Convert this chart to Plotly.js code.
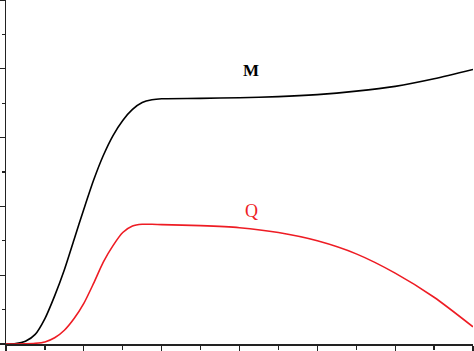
<!DOCTYPE html>
<html>
<head>
<meta charset="utf-8">
<script src="https://cdn.plot.ly/plotly-3.0.1.min.js"></script>
<style>html,body{margin:0;padding:0;background:#fff;}#chart{width:474px;height:351px;}</style>
</head>
<body>
<div id="chart"></div>
<script>
// Curve M (black)
const xM = [0, 0.125, 0.25, 0.375, 0.5, 0.625, 0.75, 0.875, 1.0, 1.125, 1.25, 1.375, 1.5, 1.625, 1.75, 1.875, 2.0, 2.5, 3.0, 3.5, 4.0, 4.5, 5.0, 5.5, 6.0];
const yM = [0, 0.005, 0.04, 0.14, 0.37, 0.70, 1.08, 1.52, 1.96, 2.38, 2.74, 3.03, 3.25, 3.41, 3.51, 3.55, 3.565, 3.57, 3.58, 3.595, 3.625, 3.675, 3.745, 3.855, 3.99];
// Curve Q (red)
const xQ = [0, 0.25, 0.375, 0.5, 0.625, 0.75, 0.875, 1.0, 1.125, 1.25, 1.375, 1.5, 1.625, 1.75, 1.875, 2.0, 2.5, 3.0, 3.5, 4.0, 4.5, 5.0, 5.5, 6.0];
const yQ = [0, 0.003, 0.01, 0.03, 0.09, 0.20, 0.37, 0.59, 0.88, 1.19, 1.43, 1.62, 1.715, 1.74, 1.74, 1.735, 1.72, 1.69, 1.62, 1.50, 1.31, 1.03, 0.68, 0.25];
const labels = ["M", "Q"];
const labelX = [3.15, 3.16];
const labelY = [3.98, 1.93];
const RED = "#ee1c24";

const traces = [
  {x: xM, y: yM, mode: "lines", line: {color: "#000", width: 1.6, shape: "spline", smoothing: 0.7}, hoverinfo: "skip"},
  {x: xQ, y: yQ, mode: "lines", line: {color: RED, width: 1.6, shape: "spline", smoothing: 0.7}, hoverinfo: "skip"}
];

const layout = {
  width: 474, height: 351,
  margin: {l: 6, r: 1, t: 0, b: 7, pad: 0},
  paper_bgcolor: "#fff", plot_bgcolor: "#fff",
  showlegend: false,
  xaxis: {
    range: [0, 6], showgrid: false, zeroline: false,
    showline: true, linecolor: "#222", linewidth: 1.5,
    ticks: "outside", ticklen: 7, tickwidth: 1.3, tickcolor: "#222", dtick: 1, tick0: 0,
    showticklabels: false,
    minor: {ticks: "outside", ticklen: 4, tickwidth: 1.3, tickcolor: "#222", dtick: 0.5, showgrid: false}
  },
  yaxis: {
    range: [0, 5], showgrid: false, zeroline: false,
    showline: true, linecolor: "#222", linewidth: 1.5,
    ticks: "outside", ticklen: 6, tickwidth: 1.3, tickcolor: "#222", dtick: 1, tick0: 0,
    showticklabels: false,
    minor: {ticks: "outside", ticklen: 3, tickwidth: 1.3, tickcolor: "#222", dtick: 0.5, showgrid: false}
  },
  annotations: labels.map((t, i) => ({
    x: labelX[i], y: labelY[i], text: i === 0 ? "<b>" + t + "</b>" : t, showarrow: false,
    font: {family: "Liberation Serif, DejaVu Serif, serif", size: i === 0 ? 17 : 18, color: i === 0 ? "#000" : RED},
    xanchor: "center", yanchor: "middle"
  }))
};

Plotly.newPlot("chart", traces, layout, {staticPlot: true, displayModeBar: false});
</script>
</body>
</html>
